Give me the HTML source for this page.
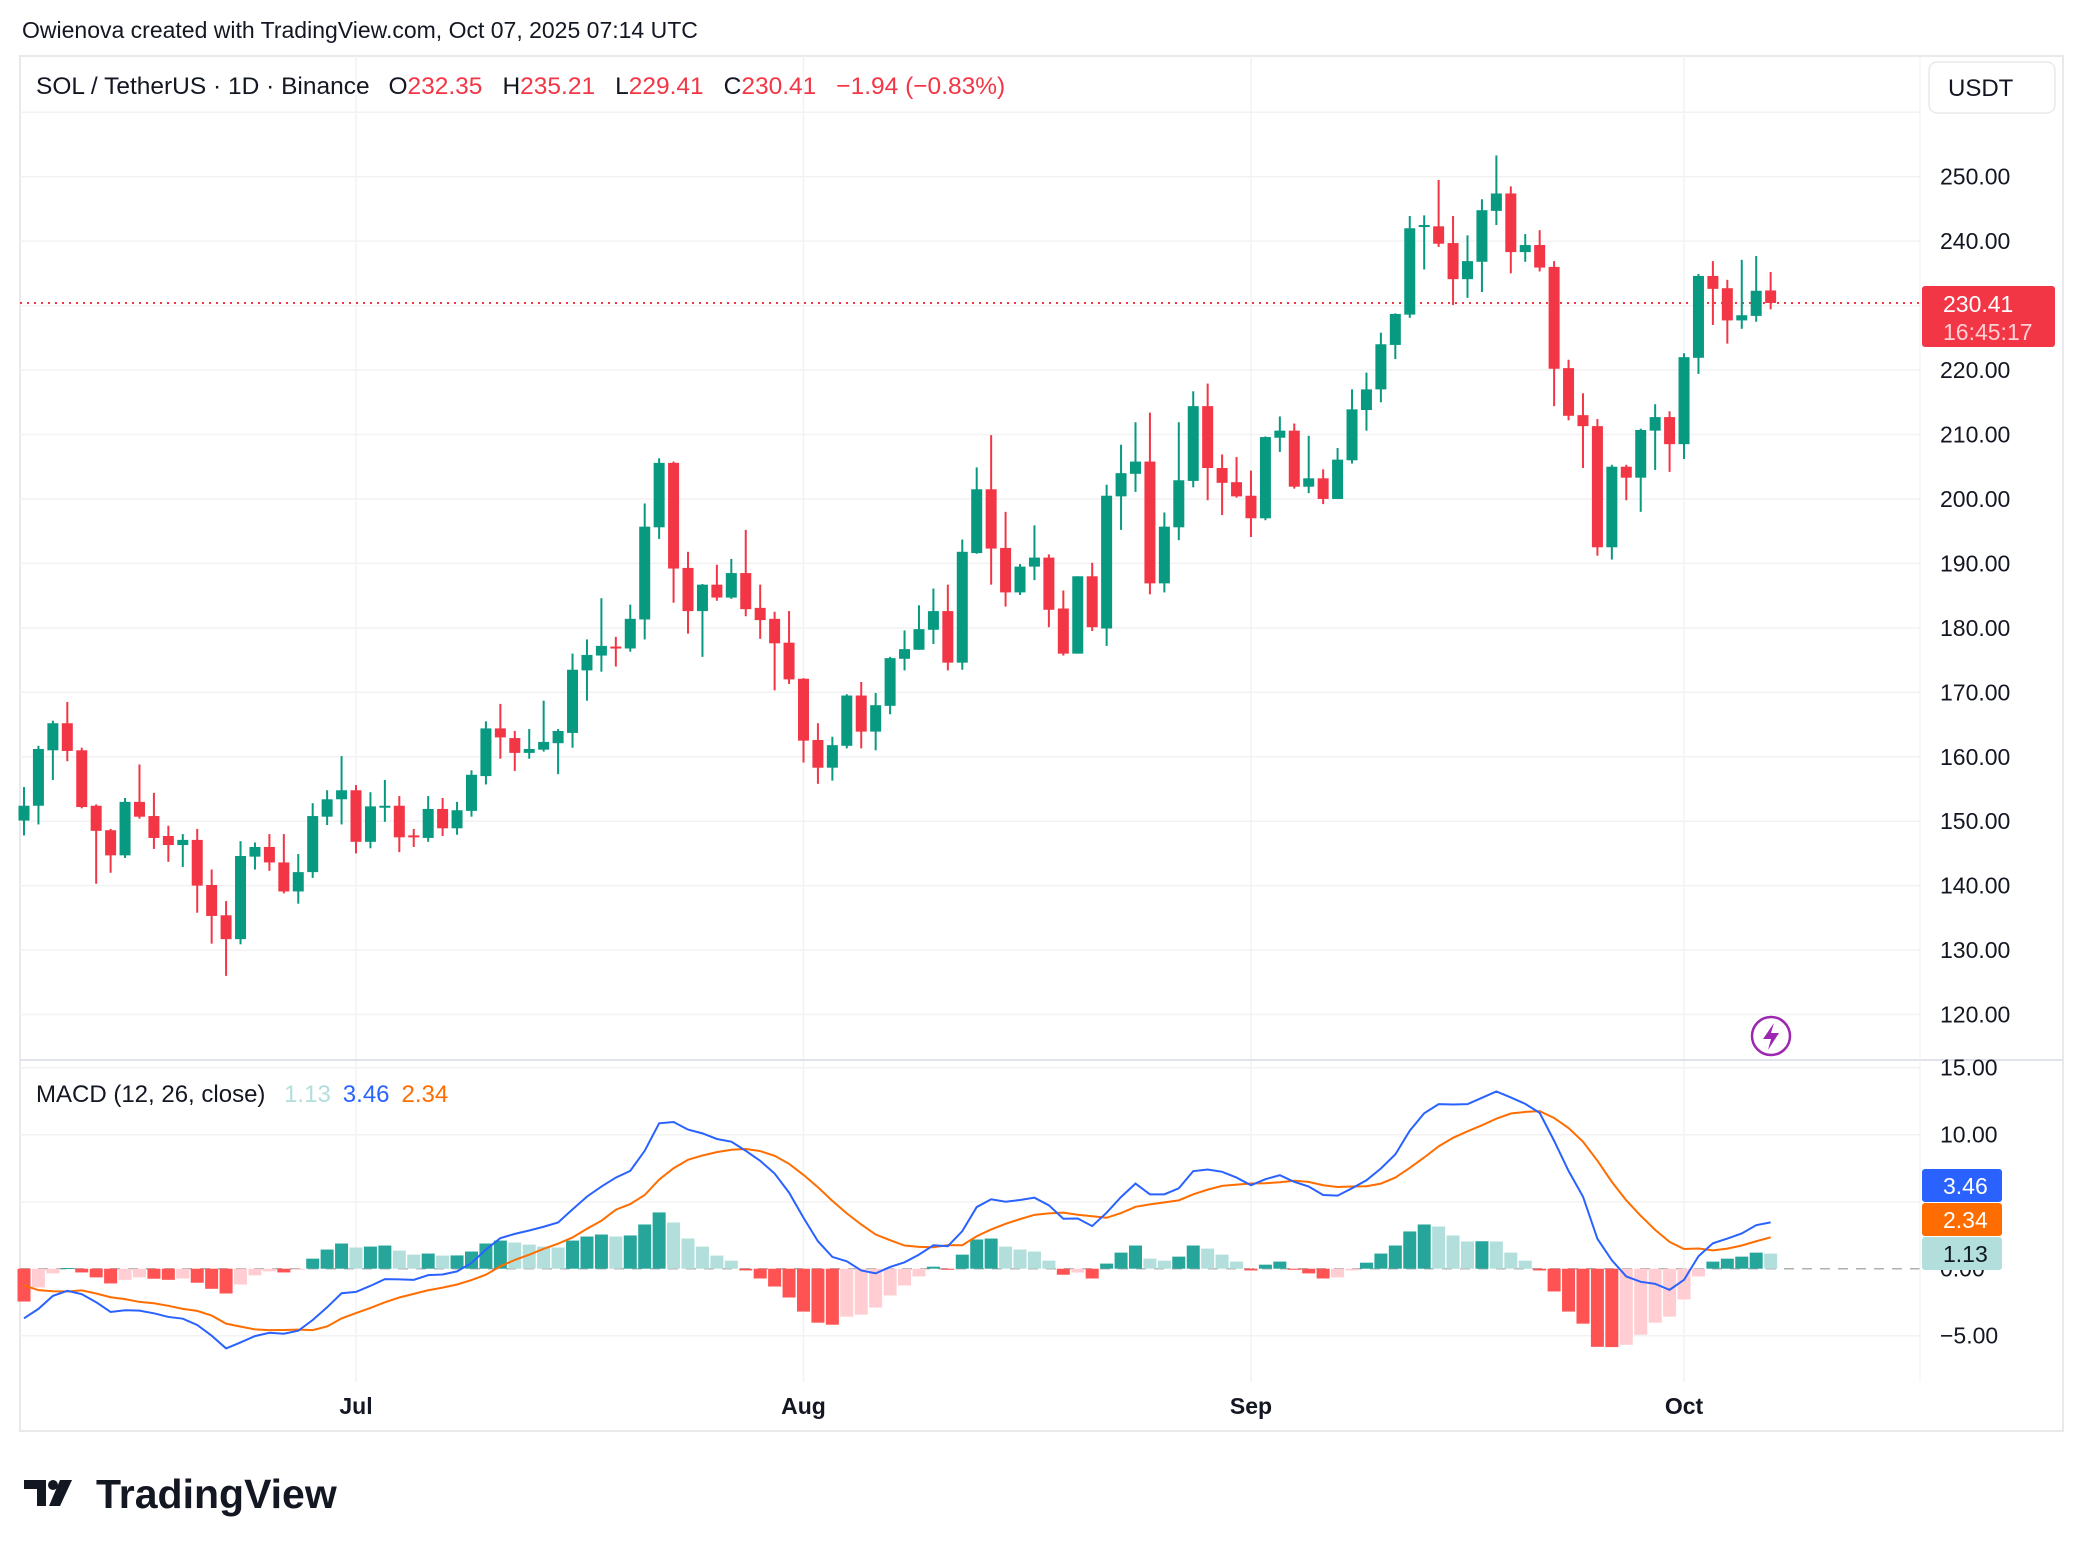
<!DOCTYPE html>
<html><head><meta charset="utf-8">
<style>
html,body{margin:0;padding:0;background:#fff;}
svg{display:block;font-family:"Liberation Sans",sans-serif;}
</style></head>
<body>
<svg id="chart" width="2084" height="1552" viewBox="0 0 2084 1552" xmlns="http://www.w3.org/2000/svg">
<rect x="0" y="0" width="2084" height="1552" fill="#ffffff"/>
<text x="22" y="38" font-size="23" fill="#131722">Owienova created with TradingView.com, Oct 07, 2025 07:14 UTC</text>
<rect x="20" y="56" width="2043" height="1375" fill="none" stroke="#e9e9ec" stroke-width="2"/>
<g id="grid"></g>
<g id="candles"></g>
<g id="macd"></g>
<line x1="20" y1="1060" x2="2063" y2="1060" stroke="#e0e3eb" stroke-width="2"/>
<line x1="1920" y1="56" x2="1920" y2="1382" stroke="#f0f0f0" stroke-width="1"/>
<g id="yaxis" font-size="23" fill="#131722"></g>
<g id="maxis" font-size="23" fill="#131722"></g>
<g id="xaxis" font-size="23" font-weight="bold" fill="#131722"></g>
<g font-size="24.5">
<text x="36" y="94" fill="#131722">SOL / TetherUS · 1D · Binance <tspan dx="12">O</tspan><tspan fill="#f23645">232.35</tspan><tspan dx="20">H</tspan><tspan fill="#f23645">235.21</tspan><tspan dx="20">L</tspan><tspan fill="#f23645">229.41</tspan><tspan dx="20">C</tspan><tspan fill="#f23645">230.41</tspan><tspan dx="20" fill="#f23645">−1.94 (−0.83%)</tspan></text>
</g>
<g font-size="24">
<text x="36" y="1102" fill="#131722">MACD (12, 26, close) <tspan dx="12" fill="#b2dfdb">1.13</tspan><tspan dx="12" fill="#2962ff">3.46</tspan><tspan dx="12" fill="#ff6d00">2.34</tspan></text>
</g>
<g>
<rect x="1929" y="62" width="126" height="51" rx="8" fill="#fff" stroke="#e9e9ec" stroke-width="1.5"/>
<text x="1948" y="96" font-size="24" fill="#131722">USDT</text>
</g>
<g>
<rect x="1922" y="286" width="133" height="61" rx="3" fill="#f23645"/>
<text x="1943" y="312" font-size="23" fill="#fff">230.41</text>
<text x="1943" y="340" font-size="23" fill="#ffd0d4">16:45:17</text>
</g>
<g font-size="23">
<rect x="1922" y="1169" width="80" height="33" rx="3" fill="#2962ff"/><text x="1943" y="1194" fill="#fff">3.46</text>
<rect x="1922" y="1203" width="80" height="33" rx="3" fill="#ff6d00"/><text x="1943" y="1228" fill="#fff">2.34</text>
<rect x="1922" y="1237" width="80" height="33" rx="3" fill="#b2dfdb"/><text x="1943" y="1262" fill="#131722">1.13</text>
</g>
<g>
<circle cx="1771" cy="1036" r="19" fill="#fff" stroke="#9c27b0" stroke-width="2.5"/>
<path d="M1774 1023 L1763 1039 L1771 1039 L1768 1050 L1779 1033 L1771 1033 Z" fill="#9c27b0"/>
</g>
<g>
<path d="M24 1480 h22 v26 h-9 v-17 h-13 z" fill="#131722"/>
<circle cx="53" cy="1485" r="5" fill="#131722"/>
<path d="M60 1480 h12 l-12 26 h-11 z" fill="#131722"/>
<text x="96" y="1508" font-size="41" font-weight="bold" fill="#131722">TradingView</text>
</g>
<script>
const opens=[150.1,152.4,161.0,165.2,161.0,152.4,148.6,144.7,153.0,150.8,147.7,146.3,147.1,140.1,135.4,131.7,144.5,146.0,143.6,139.1,142.1,150.7,153.4,154.8,146.8,152.2,152.4,147.8,147.4,151.9,148.9,151.6,157.0,164.4,162.9,160.6,161.1,162.1,
163.7,173.4,175.7,177.1,176.8,181.3,195.6,205.6,189.3,182.6,186.7,184.7,188.5,183.1,181.4,177.7,172.1,162.6,158.3,161.7,169.5,163.9,167.9,175.2,176.6,179.7,182.6,174.6,191.6,201.5,192.4,185.5,189.5,190.9,183.0,176.0,188.0,
179.9,200.4,203.9,205.8,186.9,195.6,202.8,214.4,204.8,202.6,200.5,197.0,209.5,210.6,201.9,203.2,200.0,206.0,213.8,217.0,223.9,228.6,242.3,242.3,239.7,234.1,236.8,244.7,247.4,238.3,239.4,236.0,220.3,213.0,211.3,192.5,205.0,
203.3,210.6,212.7,208.5,221.9,234.6,232.7,227.7,228.4,232.35];
const highs=[155.3,161.7,165.6,168.5,161.4,152.6,148.8,153.6,158.8,154.4,149.3,148.0,148.8,142.5,137.6,146.9,146.7,148.0,148.0,144.9,152.8,154.8,160.1,155.6,154.5,156.4,153.9,148.8,153.9,153.6,153.0,157.9,165.5,168.2,164.0,164.3,168.7,164.3,
176.0,178.2,184.6,178.6,183.6,199.3,206.3,205.8,191.8,186.8,189.8,190.7,195.2,186.7,182.5,182.6,172.2,165.2,163.1,169.7,171.6,169.9,175.5,179.6,183.5,186.1,186.7,193.7,204.9,209.9,198.0,189.9,195.9,191.4,185.8,188.0,190.1,
202.2,208.4,211.9,213.4,197.9,211.9,216.7,217.9,206.9,206.5,204.4,209.7,212.8,211.7,209.8,204.6,207.9,217.0,219.6,225.8,228.8,243.9,244.0,249.5,243.9,240.9,246.5,253.3,248.5,241.1,241.7,236.9,221.6,216.4,212.4,205.3,205.3,
210.9,214.7,213.6,222.6,234.9,236.9,234.0,237.1,237.7,235.21];
const lows=[147.8,149.5,156.4,159.3,152.0,140.3,142.0,144.3,150.4,145.7,143.7,142.9,135.8,131.0,126.0,130.9,142.5,142.3,138.8,137.2,141.2,149.4,149.5,145.0,145.8,149.9,145.2,146.0,146.8,147.7,147.9,150.7,155.7,159.7,157.8,159.7,160.8,157.3,
161.4,168.7,173.2,174.0,176.3,178.2,193.8,183.9,179.1,175.5,184.2,184.5,181.8,178.3,170.3,171.3,159.1,155.8,156.3,161.3,161.3,161.0,166.6,173.4,176.6,177.5,173.4,173.5,191.5,186.7,183.3,185.1,187.4,180.1,175.7,176.0,179.5,
177.2,195.2,201.1,185.2,185.5,193.6,201.8,199.8,197.5,200.2,194.1,196.7,207.3,201.6,200.9,199.2,200.0,205.5,210.6,215.0,221.7,228.1,235.6,239.1,230.1,231.2,232.1,242.5,235.0,236.8,235.3,214.4,212.2,204.8,191.2,190.6,199.8,
198.0,204.5,204.2,206.2,219.4,227.0,224.1,226.4,227.5,229.41];
const closes=[152.4,161.2,165.2,160.9,152.2,148.5,144.7,153.0,150.7,147.4,146.3,147.1,140.0,135.3,131.7,144.6,146.0,143.6,139.1,142.1,150.8,153.4,154.8,146.8,152.3,152.4,147.5,147.6,151.9,148.9,151.7,157.2,164.4,163.0,160.6,161.2,162.3,164.0,
173.5,175.8,177.2,176.9,181.4,195.7,205.6,189.2,182.6,186.7,184.7,188.5,182.9,181.2,177.6,172.0,162.5,158.3,161.8,169.5,163.9,168.0,175.3,176.7,179.8,182.6,174.6,191.8,201.5,192.3,185.5,189.5,190.9,182.8,176.0,188.0,180.1,
200.5,204.0,205.8,186.9,195.7,202.9,214.4,204.8,202.5,200.4,197.0,209.6,210.6,201.9,203.2,200.0,206.1,213.9,217.0,224.0,228.7,242.0,242.5,239.6,234.1,236.9,244.8,247.4,238.3,239.4,235.9,220.2,212.9,211.3,192.5,205.0,203.3,
210.7,212.7,208.5,222.0,234.6,232.6,227.7,228.5,232.3,230.41];
const macdVals=[-3.7,-3.0,-2.03,-1.65,-1.9,-2.5,-3.23,-3.1,-3.13,-3.33,-3.6,-3.73,-4.2,-5.0,-5.95,-5.5,-5.03,-4.78,-4.85,-4.63,-3.83,-2.88,-1.83,-1.73,-1.28,-0.78,-0.8,-0.83,-0.48,-0.43,-0.2,0.43,1.43,2.28,2.6,2.85,3.13,3.45,4.43,5.38,6.13,6.8,
7.3,8.8,10.85,10.95,10.38,10.1,9.68,9.48,8.8,8.05,7.1,5.68,3.8,2.05,0.88,0.55,-0.13,-0.35,0.13,0.48,1.05,1.75,1.68,2.8,4.6,5.18,5.0,5.13,5.3,4.73,3.73,3.75,3.18,4.18,5.35,6.35,5.55,5.55,6.0,7.28,7.4,7.23,
6.8,6.23,6.68,6.98,6.48,6.13,5.5,5.45,6.0,6.6,7.48,8.53,10.3,11.6,12.28,12.25,12.28,12.75,13.23,12.78,12.3,11.63,9.55,7.3,5.38,2.23,0.63,-0.58,-0.98,-1.13,-1.58,-0.83,0.93,1.9,2.25,2.63,3.25,3.46];
const signalVals=[-1.25,-1.6,-1.68,-1.7,-1.62,-1.85,-2.13,-2.27,-2.48,-2.58,-2.77,-3.0,-3.15,-3.5,-4.1,-4.32,-4.53,-4.58,-4.57,-4.55,-4.58,-4.31,-3.71,-3.31,-2.93,-2.51,-2.15,-1.88,-1.61,-1.41,-1.18,-0.85,-0.45,0.18,0.65,1.05,1.48,1.87,2.33,2.98,3.58,4.4,
4.82,5.5,6.65,7.5,8.13,8.45,8.7,8.88,8.93,8.78,8.43,7.83,7.0,6.08,5.06,4.13,3.3,2.55,2.13,1.73,1.63,1.6,1.76,1.75,2.42,2.93,3.35,3.7,4.02,4.13,4.18,4.03,3.91,3.8,4.15,4.62,4.8,4.95,5.1,5.55,5.9,6.18,
6.27,6.36,6.38,6.45,6.56,6.48,6.23,6.1,6.13,6.15,6.35,6.8,7.52,8.3,9.13,9.77,10.25,10.7,11.2,11.58,11.7,11.76,11.25,10.5,9.48,8.06,6.48,5.1,3.95,2.9,2.0,1.47,1.51,1.37,1.5,1.73,2.05,2.34];
const histVals=[-2.45,-1.4,-0.35,0.05,-0.28,-0.65,-1.1,-0.83,-0.65,-0.75,-0.83,-0.73,-1.05,-1.5,-1.85,-1.18,-0.5,-0.2,-0.28,-0.08,0.75,1.43,1.88,1.58,1.65,1.73,1.35,1.05,1.13,0.98,0.99,1.28,1.88,2.1,1.95,1.8,1.65,1.58,2.1,2.4,2.55,2.4,
2.48,3.3,4.2,3.45,2.25,1.65,0.98,0.6,-0.13,-0.73,-1.33,-2.15,-3.2,-4.03,-4.18,-3.58,-3.43,-2.9,-2.0,-1.25,-0.58,0.15,-0.08,1.05,2.18,2.25,1.65,1.43,1.28,0.6,-0.45,-0.28,-0.73,0.38,1.2,1.73,0.75,0.6,0.9,1.73,1.5,1.05,
0.53,-0.13,0.3,0.53,-0.08,-0.35,-0.73,-0.65,-0.13,0.45,1.13,1.73,2.78,3.3,3.15,2.48,2.03,2.05,2.03,1.2,0.6,-0.13,-1.7,-3.2,-4.1,-5.83,-5.85,-5.68,-4.93,-4.03,-3.58,-2.3,-0.58,0.53,0.75,0.9,1.2,1.13];
const priceTicks=[250,240,230,220,210,200,190,180,170,160,150,140,130,120];
const priceTickLabels=["250.00","240.00","","220.00","210.00","200.00","190.00","180.00","170.00","160.00","150.00","140.00","130.00","120.00"];
const macdTicks=[15,10,5,0,-5];
const macdTickLabels=["15.00","10.00","","0.00","−5.00"];
const monthIdx=[23,54,85,115];
const monthLabels=["Jul","Aug","Sep","Oct"];
const lastPrice=230.41;

const NS="http://www.w3.org/2000/svg";
const xOf=i=>24+14.435*i;
const yP=p=>176.7+(250-p)*6.445;
const yM=v=>1268.7-v*13.4;
function mk(tag,attrs,parent){const e=document.createElementNS(NS,tag);for(const k in attrs)e.setAttribute(k,attrs[k]);parent.appendChild(e);return e;}
const grid=document.getElementById('grid');
[260].concat(priceTicks).forEach(p=>{const l=mk('line',{x1:20,x2:1920,y1:yP(p),y2:yP(p),stroke:'#f2f2f2','stroke-width':1.5},grid);

});
macdTicks.forEach(v=>{const l=mk('line',{x1:20,x2:1920,y1:yM(v),y2:yM(v),stroke:v===0?'#b0b0b0':'#f2f2f2','stroke-width':1.5,'stroke-dasharray':v===0?'10,8':'none'},grid);

});
monthIdx.forEach(i=>{const l=mk('line',{x1:xOf(i),x2:xOf(i),y1:56,y2:1382,stroke:'#f2f2f2','stroke-width':1.5},grid);

});
const ll=mk('line',{x1:20,x2:1920,y1:yP(lastPrice),y2:yP(lastPrice),stroke:'#f23645','stroke-width':2,'stroke-dasharray':'2,5'},grid);



const cg=document.getElementById('candles');
closes.forEach((c,i)=>{const o=opens[i],h=highs[i],l=lows[i];const col=c>=o?'#089981':'#f23645';const x=xOf(i);
const g=mk('g',{},cg);


mk('rect',{x:x-1,y:yP(h),width:2,height:Math.max(1,yP(l)-yP(h)),fill:col},g);
const t=yP(Math.max(o,c)),b=yP(Math.min(o,c));
mk('rect',{x:x-5.5,y:t,width:11,height:Math.max(2,b-t),fill:col},g);});

const mg=document.getElementById('macd');
histVals.forEach((v,i)=>{const prev=i>0?histVals[i-1]:v;let col;
if(v>=0)col=v>=prev?'#26a69a':'#b2dfdb';else col=v<=prev?'#ff5252':'#ffcdd2';
const y0=yM(0),y1=yM(v);
const r=mk('rect',{x:xOf(i)-6.5,y:Math.min(y0,y1),width:13,height:Math.max(1,Math.abs(y1-y0)),fill:col},mg);

});
const ptsM=macdVals.map((v,i)=>xOf(i)+','+yM(v)).join(' ');
const ptsS=signalVals.map((v,i)=>xOf(i)+','+yM(v)).join(' ');
const sl=mk('polyline',{points:ptsS,fill:'none',stroke:'#ff6d00','stroke-width':2},mg);


const ml=mk('polyline',{points:ptsM,fill:'none',stroke:'#2962ff','stroke-width':2},mg);



const ya=document.getElementById('yaxis');
priceTicks.forEach((p,k)=>{if(!priceTickLabels[k])return;const t=mk('text',{x:1940,y:yP(p)+8},ya);t.textContent=priceTickLabels[k];

});
const ma=document.getElementById('maxis');
macdTicks.forEach((v,k)=>{if(!macdTickLabels[k])return;const t=mk('text',{x:1940,y:yM(v)+8},ma);t.textContent=macdTickLabels[k];

});
const xa=document.getElementById('xaxis');
monthIdx.forEach((i,k)=>{const t=mk('text',{x:xOf(i),y:1414,'text-anchor':'middle'},xa);t.textContent=monthLabels[k];

});
</script>
</svg>
</body></html>
